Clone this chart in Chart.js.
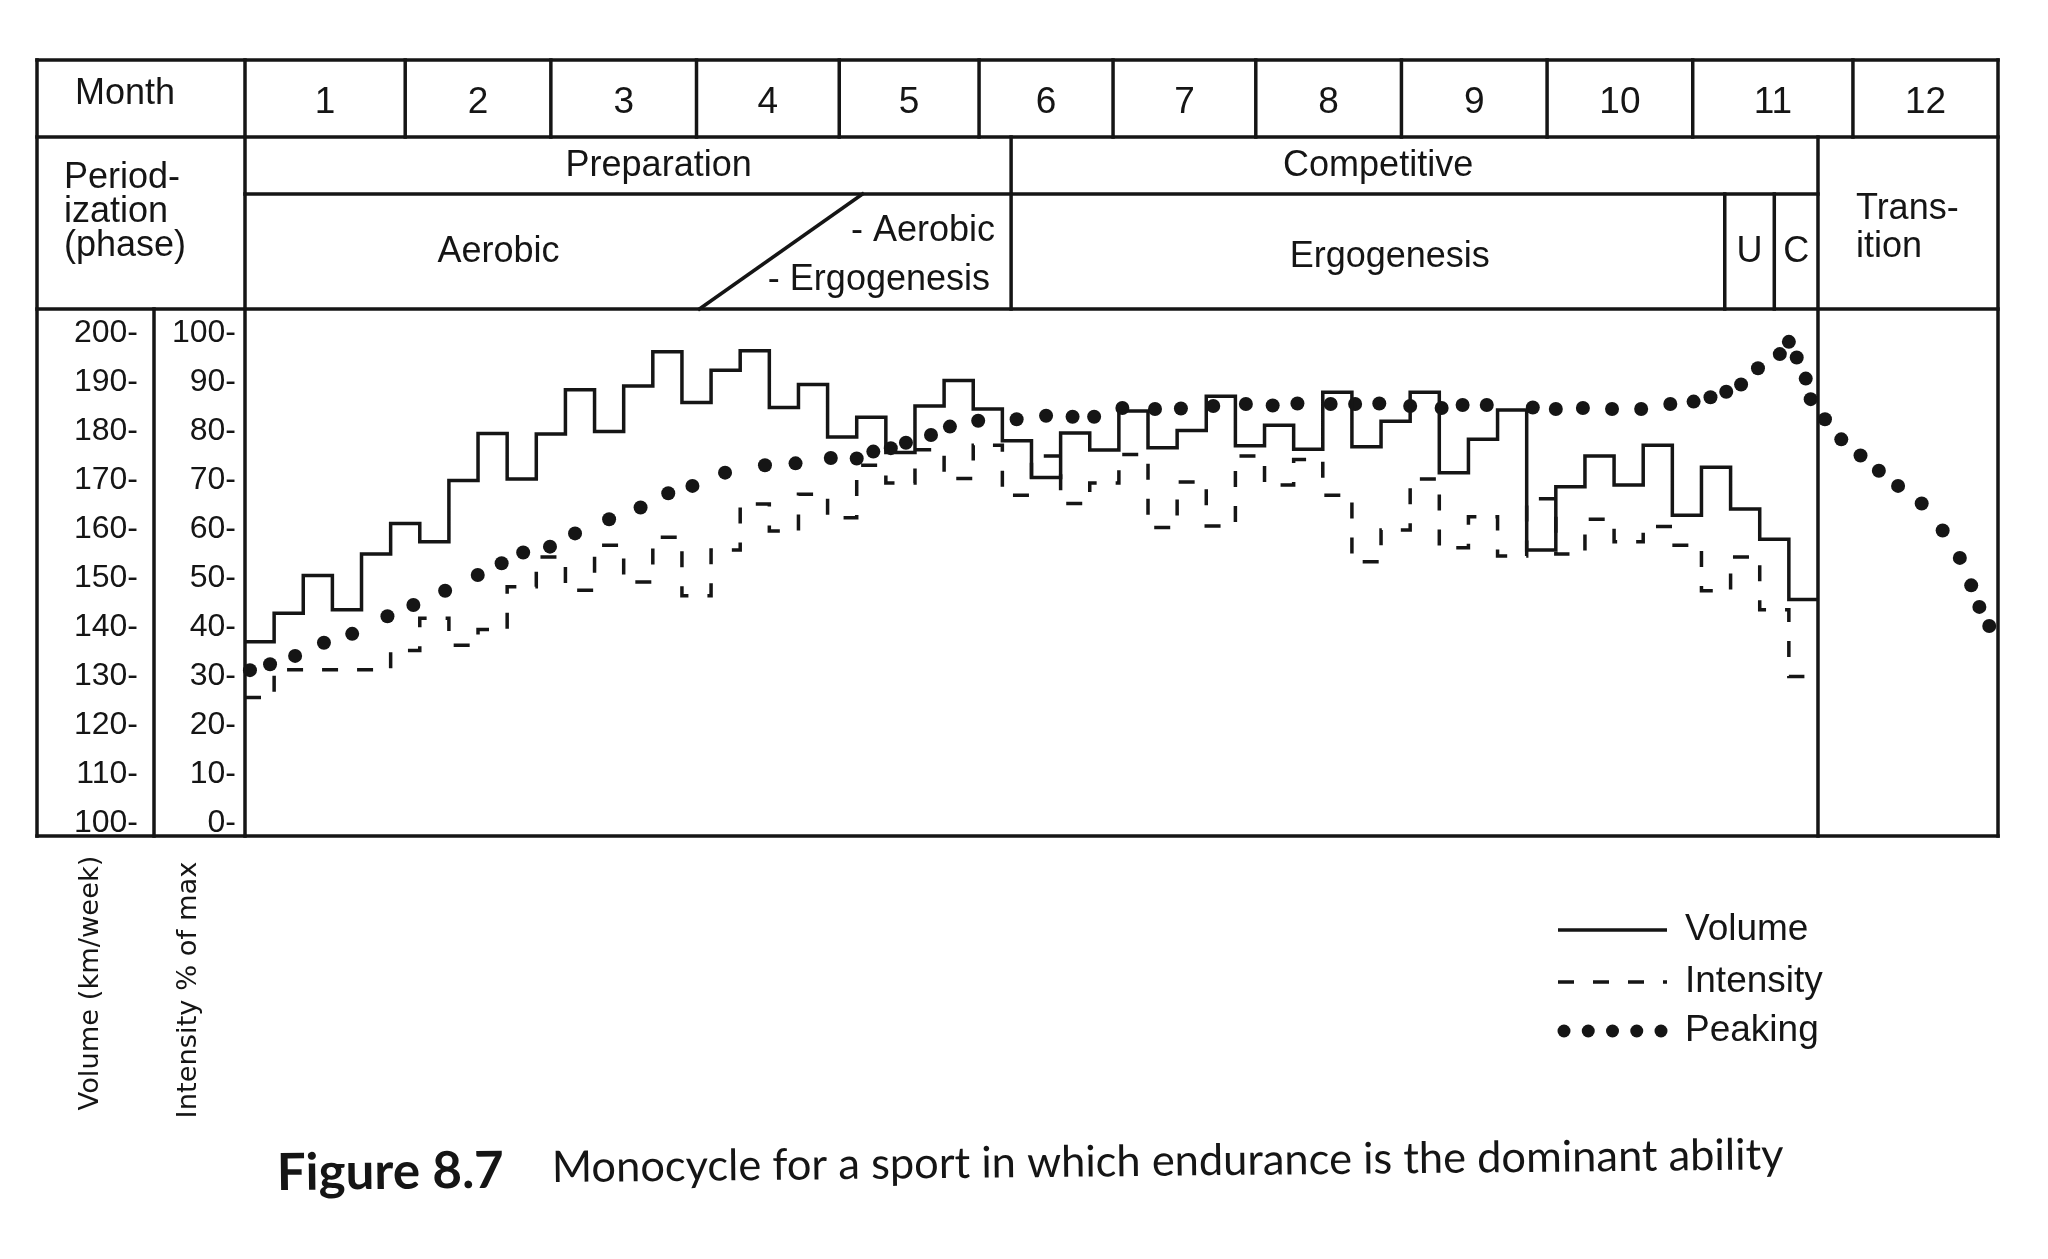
<!DOCTYPE html>
<html>
<head>
<meta charset="utf-8">
<title>Figure 8.7</title>
<script src="https://cdn.jsdelivr.net/npm/chart.js@4.4.1/dist/chart.umd.min.js"></script>
<style>
  html, body { margin: 0; padding: 0; background: #fff; overflow: hidden; }
  canvas { display: block; }
</style>
</head>
<body>
<canvas id="chart" width="2048" height="1259"></canvas>
<script>
// x runs in weeks; each step of the volume / intensity lines is one week
const months = ['1', '2', '3', '4', '5', '6', '7', '8', '9', '10', '11', '12'];
const monthEdges = [0, 5.5, 10.5, 15.5, 20.4, 25.2, 29.8, 34.7, 39.7, 44.7, 49.7, 55.2, 60.18];
const phases = ['Preparation', 'Competitive'];
const phaseEdges = [0, 26.3, 54];
const aerobicSlant = [21.2, 15.6];   // top, bottom of the slanted divider
const ucEdges = [50.8, 52.5];

const volumeTicks = [100, 110, 120, 130, 140, 150, 160, 170, 180, 190, 200];
const intensityTicks = [0, 10, 20, 30, 40, 50, 60, 70, 80, 90, 100];

// km/week, one value per week
const weekVolume = [137.0, 142.8, 150.5, 143.5, 154.9, 161.1, 157.4, 169.9, 179.5, 170.2,
  179.4, 188.4, 179.9, 189.2, 196.2, 185.8, 192.4, 196.4, 184.8, 189.5,
  178.8, 182.8, 175.6, 185.1, 190.3, 184.5, 178.0, 170.5, 179.6, 176.1,
  184.1, 176.6, 180.1, 187.1, 177.0, 181.2, 176.3, 187.9, 176.8, 182.0,
  187.9, 171.5, 178.3, 184.3, 155.7, 168.6, 174.9, 169.0, 177.1, 162.8,
  172.6, 164.1, 157.9, 145.6];

// % of max, one value per week
const weekIntensity = [25.6, 31.3, 31.3, 31.3, 31.3, 35.2, 41.8, 36.3, 39.5, 48.2,
  54.3, 47.5, 56.7, 49.2, 58.3, 46.4, 55.7, 65.1, 59.6, 67.1,
  62.3, 73.0, 69.4, 76.2, 70.3, 77.1, 66.9, 74.9, 65.2, 69.4,
  75.2, 60.3, 69.6, 60.6, 74.9, 69.0, 74.2, 66.9, 53.3, 59.8,
  70.2, 56.2, 62.5, 54.5, 66.2, 54.9, 62.0, 57.4, 60.5, 56.7,
  47.4, 54.3, 43.5, 29.9];

// peaking dots (week, level on the volume scale)
const peakWeek = [0.17, 0.86, 1.72, 2.71, 3.68, 4.89, 5.78, 6.87, 7.99, 8.81, 9.55, 10.47, 11.33, 12.50,
  13.58, 14.53, 15.36, 16.48, 17.85, 18.90, 20.11, 21.0, 21.57, 22.17, 22.69, 23.55, 24.20, 25.17,
  26.49, 27.50, 28.41, 29.15, 30.12, 31.24, 32.13, 33.24, 34.36, 35.28, 36.13, 37.27,
  38.11, 38.94, 40.0, 41.08, 41.80, 42.63, 44.21, 45.0, 45.93, 46.93, 47.93, 48.93, 49.73,
  50.31, 50.85, 51.36, 51.94, 52.69, 53.0, 53.27, 53.58, 53.75, 54.24, 54.80, 55.46, 56.09,
  56.75, 57.56, 58.28, 58.87, 59.26, 59.54, 59.88];
const peakLevel = [131.2, 132.4, 134.1, 136.8, 138.6, 142.2, 144.5, 147.4, 150.6, 153.0, 155.2, 156.4, 159.1, 162.0,
  164.4, 167.3, 168.8, 171.5, 173.0, 173.4, 174.5, 174.4, 175.8, 176.5, 177.6, 179.2, 180.9, 182.1,
  182.4, 183.1, 182.9, 182.9, 184.7, 184.5, 184.6, 185.1, 185.5, 185.2, 185.6, 185.5,
  185.5, 185.6, 185.1, 184.7, 185.3, 185.3, 184.8, 184.5, 184.7, 184.5, 184.5, 185.5, 186.0,
  186.9, 188.0, 189.5, 192.8, 195.7, 198.2, 195.0, 190.7, 186.5, 182.4, 178.3, 175.0, 171.9,
  168.8, 165.2, 159.7, 154.1, 148.5, 144.1, 140.2];

const volumeTitle = 'Volume (km/week)';
const intensityTitle = 'Intensity % of max';
const captionLead = 'Figure 8.7';
const captionText = 'Monocycle for a sport in which endurance is the dominant ability';

const ink = '#151515';
const sans = '"Liberation Sans", Arial, Helvetica, sans-serif';
const wide = '"DejaVu Sans", Verdana, sans-serif';
const volMin = 97.35, volMax = 204.9;

// each week is drawn from its start to the next one, so close the last week
const steps = vals => vals.map((v, i) => ({ x: i, y: v }))
  .concat({ x: vals.length, y: vals[vals.length - 1] });

function seg(ctx, x1, y1, x2, y2) {
  ctx.beginPath();
  ctx.moveTo(x1, y1);
  ctx.lineTo(x2, y2);
  ctx.stroke();
}

function label(ctx, str, x, y, font, align) {
  ctx.font = font;
  ctx.textAlign = align || 'center';
  ctx.textBaseline = 'middle';
  ctx.fillText(str, x, y);
}

// font size that makes a string as wide as in the print
function fitSize(ctx, str, family, weight, target) {
  ctx.font = weight + ' 100px ' + family;
  return 100 * target / ctx.measureText(str).width;
}

const figureFrame = {
  id: 'figureFrame',
  beforeDatasetsDraw(chart) {
    const { ctx, chartArea: area, scales } = chart;
    const X = w => scales.x.getPixelForValue(w);
    const left = 37, right = area.right, top = 60, monthBottom = 137, phaseBottom = 194;
    const plotTop = area.top, plotBottom = area.bottom;
    const head = '36px ' + sans;

    ctx.save();
    ctx.strokeStyle = ink;
    ctx.fillStyle = ink;
    ctx.lineWidth = 3.5;
    ctx.lineCap = 'square';

    // table rows
    seg(ctx, left, top, right, top);
    seg(ctx, left, monthBottom, right, monthBottom);
    seg(ctx, area.left, phaseBottom, X(phaseEdges[2]), phaseBottom);
    seg(ctx, left, plotTop, right, plotTop);
    seg(ctx, left, plotBottom, right, plotBottom);

    // table columns
    seg(ctx, left, top, left, plotBottom);
    seg(ctx, area.left, top, area.left, plotBottom);
    seg(ctx, right, top, right, plotBottom);
    seg(ctx, scales.yV.right, plotTop, scales.yV.right, plotBottom);
    monthEdges.slice(1, -1).forEach(w => seg(ctx, X(w), top, X(w), monthBottom));
    seg(ctx, X(phaseEdges[1]), monthBottom, X(phaseEdges[1]), plotTop);
    seg(ctx, X(phaseEdges[2]), monthBottom, X(phaseEdges[2]), plotBottom);
    ucEdges.forEach(w => seg(ctx, X(w), phaseBottom, X(w), plotTop));
    seg(ctx, X(aerobicSlant[0]), phaseBottom, X(aerobicSlant[1]), plotTop);

    // header text
    const monthMid = (top + monthBottom) / 2;
    label(ctx, 'Month', 125, monthMid - 4, head);
    months.forEach((m, i) => label(ctx, m, (X(monthEdges[i]) + X(monthEdges[i + 1])) / 2, monthMid + 4, '37px ' + sans));

    const phaseMid = (monthBottom + phaseBottom) / 2;
    label(ctx, phases[0], X(14.2), phaseMid + 1, head);
    label(ctx, phases[1], X(38.9), phaseMid + 1, head);

    label(ctx, 'Aerobic', X(8.7), 252, head);
    label(ctx, '- Aerobic', X(20.8), 231, head, 'left');
    label(ctx, '- Ergogenesis', X(17.95), 280, head, 'left');
    label(ctx, 'Ergogenesis', X(39.3), 257, head);
    label(ctx, 'U', (X(ucEdges[0]) + X(ucEdges[1])) / 2, 252, head);
    label(ctx, 'C', (X(ucEdges[1]) + X(phaseEdges[2])) / 2, 252, head);
    label(ctx, 'Trans-', X(phaseEdges[2]) + 38, 209, head, 'left');
    label(ctx, 'ition', X(phaseEdges[2]) + 38, 247, head, 'left');

    label(ctx, 'Period-', 64, 178, head, 'left');
    label(ctx, 'ization', 64, 212, head, 'left');
    label(ctx, '(phase)', 64, 246, head, 'left');
    ctx.restore();
  },
  afterDraw(chart) {
    const { ctx } = chart;
    ctx.save();
    ctx.fillStyle = ink;
    ctx.strokeStyle = ink;

    // rotated axis titles under the tick columns
    [[volumeTitle, 91, 983, 255], [intensityTitle, 189, 990, 257]].forEach(([t, x, y, len]) => {
      const size = fitSize(ctx, t, wide, 'normal', len);
      ctx.save();
      ctx.translate(x, y);
      ctx.rotate(-Math.PI / 2);
      label(ctx, t, 0, 0, size + 'px ' + wide);
      ctx.restore();
    });

    // legend
    const lx0 = 1558, lx1 = 1667, rows = [930, 982, 1031];
    chart.data.datasets.forEach((ds, i) => {
      const y = rows[i];
      if (ds.showLine === false) {
        for (let k = 0; k < 5; k++) {
          ctx.beginPath();
          ctx.arc(lx0 + 6 + k * (lx1 - lx0 - 12) / 4, y, 6.5, 0, Math.PI * 2);
          ctx.fill();
        }
      } else {
        ctx.lineWidth = ds.borderWidth;
        ctx.setLineDash(ds.borderDash || []);
        seg(ctx, lx0, y, lx1, y);
        ctx.setLineDash([]);
      }
      label(ctx, ds.label, 1685, y, '37px ' + sans, 'left');
    });

    // caption, fitted to the printed widths
    const capFamily = 'Lato, "Open Sans", sans-serif';
    const leadSize = fitSize(ctx, captionLead, capFamily, 'bold', 227);
    const textSize = fitSize(ctx, captionText, capFamily, 'normal', 1232);
    ctx.translate(277, 1190);
    ctx.rotate(-0.6 * Math.PI / 180);
    ctx.textAlign = 'left';
    ctx.textBaseline = 'alphabetic';
    ctx.font = 'bold ' + leadSize + 'px ' + capFamily;
    ctx.fillText(captionLead, 0, 0);
    ctx.font = textSize + 'px ' + capFamily;
    ctx.fillText(captionText, 275, -5);
    ctx.restore();
  }
};

const tickFont = { family: sans, size: 32 };

new Chart(document.getElementById('chart'), {
  type: 'line',
  data: {
    datasets: [
      {
        label: 'Volume',
        data: steps(weekVolume),
        yAxisID: 'yV',
        stepped: 'before',
        borderColor: ink,
        borderWidth: 3.5,
        borderJoinStyle: 'miter',
        pointRadius: 0,
        fill: false
      },
      {
        label: 'Intensity',
        data: steps(weekIntensity),
        yAxisID: 'yI',
        stepped: 'before',
        borderColor: ink,
        borderWidth: 3.5,
        borderDash: [16, 19],
        borderJoinStyle: 'miter',
        pointRadius: 0,
        fill: false
      },
      {
        label: 'Peaking',
        data: peakWeek.map((w, i) => ({ x: w, y: peakLevel[i] })),
        yAxisID: 'yV',
        showLine: false,
        pointRadius: 7,
        pointBackgroundColor: ink,
        pointBorderWidth: 0,
        clip: false
      }
    ]
  },
  options: {
    responsive: false,
    animation: false,
    layout: { padding: { left: 37, right: 50, top: 309, bottom: 423 } },
    scales: {
      x: {
        type: 'linear',
        display: false,
        min: 0,
        max: monthEdges[monthEdges.length - 1]
      },
      yV: {
        position: 'left',
        weight: 2,
        min: volMin,
        max: volMax,
        afterBuildTicks: s => { s.ticks = volumeTicks.map(v => ({ value: v })); },
        afterFit: s => { s.width = 117; },
        grid: { display: false, drawTicks: false },
        border: { display: false },
        ticks: {
          autoSkip: false,
          padding: 16,
          color: ink,
          font: tickFont,
          callback: v => v + '-'
        }
      },
      yI: {
        position: 'left',
        weight: 1,
        min: volMin - 100,
        max: volMax - 100,
        afterBuildTicks: s => { s.ticks = intensityTicks.map(v => ({ value: v })); },
        afterFit: s => { s.width = 91; },
        grid: { display: false, drawTicks: false },
        border: { display: false },
        ticks: {
          autoSkip: false,
          padding: 9,
          color: ink,
          font: tickFont,
          callback: v => v + '-'
        }
      }
    },
    plugins: {
      legend: { display: false },
      tooltip: { enabled: false }
    }
  },
  plugins: [figureFrame]
});
</script>
</body>
</html>
